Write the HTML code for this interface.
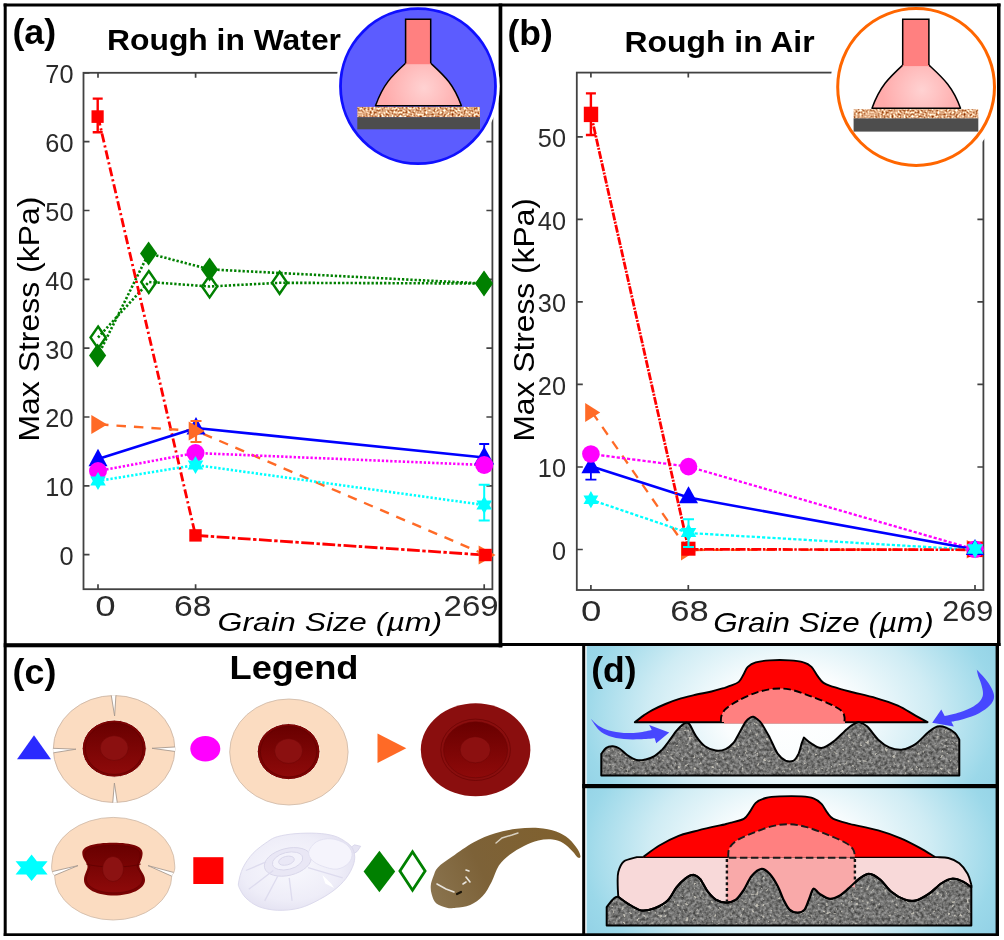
<!DOCTYPE html>
<html><head><meta charset="utf-8"><title>Figure</title>
<style>
html,body{margin:0;padding:0;background:#fff;}
body{width:1004px;height:940px;overflow:hidden;font-family:"Liberation Sans",sans-serif;}
svg{display:block}
text{font-family:"Liberation Sans",sans-serif;}
</style></head><body>
<svg width="1004" height="940" viewBox="0 0 1004 940">
<rect x="83.5" y="72.8" width="408.9" height="516.4" fill="#fff" stroke="#424242" stroke-width="1.8"/>
<path d="M83.5 72.8 h6 M492.4 72.8 h-6" stroke="#424242" stroke-width="1.7"/>
<path d="M83.5 141.6 h6 M492.4 141.6 h-6" stroke="#424242" stroke-width="1.7"/>
<path d="M83.5 210.5 h6 M492.4 210.5 h-6" stroke="#424242" stroke-width="1.7"/>
<path d="M83.5 279.3 h6 M492.4 279.3 h-6" stroke="#424242" stroke-width="1.7"/>
<path d="M83.5 348.2 h6 M492.4 348.2 h-6" stroke="#424242" stroke-width="1.7"/>
<path d="M83.5 417.0 h6 M492.4 417.0 h-6" stroke="#424242" stroke-width="1.7"/>
<path d="M83.5 485.8 h6 M492.4 485.8 h-6" stroke="#424242" stroke-width="1.7"/>
<path d="M83.5 554.7 h6 M492.4 554.7 h-6" stroke="#424242" stroke-width="1.7"/>
<path d="M98.0 589.2 v-5 M98.0 72.8 v5" stroke="#424242" stroke-width="1.7"/>
<path d="M195.6 589.2 v-5 M195.6 72.8 v5" stroke="#424242" stroke-width="1.7"/>
<path d="M484.2 589.2 v-5 M484.2 72.8 v5" stroke="#424242" stroke-width="1.7"/>
<text x="73.5" y="83.1" font-size="25.3" fill="#2a2a2a" text-anchor="end">70</text>
<text x="73.5" y="151.9" font-size="25.3" fill="#2a2a2a" text-anchor="end">60</text>
<text x="73.5" y="220.8" font-size="25.3" fill="#2a2a2a" text-anchor="end">50</text>
<text x="73.5" y="289.6" font-size="25.3" fill="#2a2a2a" text-anchor="end">40</text>
<text x="73.5" y="358.5" font-size="25.3" fill="#2a2a2a" text-anchor="end">30</text>
<text x="73.5" y="427.3" font-size="25.3" fill="#2a2a2a" text-anchor="end">20</text>
<text x="73.5" y="496.1" font-size="25.3" fill="#2a2a2a" text-anchor="end">10</text>
<text x="73.5" y="565.0" font-size="25.3" fill="#2a2a2a" text-anchor="end">0</text>
<text x="95.2" y="616.2" font-size="29.5" fill="#2a2a2a" textLength="20.4" lengthAdjust="spacingAndGlyphs">0</text>
<text x="174" y="616.2" font-size="29.5" fill="#2a2a2a" textLength="37.4" lengthAdjust="spacingAndGlyphs">68</text>
<text x="443.6" y="616.2" font-size="29.5" fill="#2a2a2a" textLength="55" lengthAdjust="spacingAndGlyphs">269</text>
<text x="217.6" y="631.3" font-size="26" font-style="italic" fill="#000" textLength="224.5" lengthAdjust="spacingAndGlyphs">Grain Size (µm)</text>
<text transform="translate(39.3 441.6) rotate(-90)" font-size="29" fill="#000" textLength="245" lengthAdjust="spacingAndGlyphs">Max Stress (kPa)</text>
<text x="12.4" y="44.4" font-size="35.8" font-weight="bold" fill="#000">(a)</text>
<text x="107" y="49.6" font-size="29.5" font-weight="bold" fill="#000" textLength="234" lengthAdjust="spacingAndGlyphs">Rough in Water</text>
<path d="M98.0 355.5 L148.6 253.4 L209.6 269.4 L484.0 283.5" fill="none" stroke="#008000" stroke-width="2.6" stroke-dasharray="2.3 1.9" stroke-linejoin="round"/>
<path d="M98.0 337.5 L148.8 282.0 L209.6 286.5 L279.6 282.8 L484.0 283.5" fill="none" stroke="#008000" stroke-width="2.6" stroke-dasharray="2.3 1.9" stroke-linejoin="round"/>
<path d="M98.0 116.5 L195.5 535.4" fill="none" stroke="#ff0000" stroke-width="2.8" stroke-dasharray="9.2 3 2.2 3" stroke-linejoin="round"/>
<path d="M195.5 535.4 L484.2 555.0" fill="none" stroke="#ff0000" stroke-width="2.8" stroke-dasharray="12.8 2.5 3.4 2.5" stroke-linejoin="round"/>
<path d="M99.0 424.4 L196.5 431.0 L486.0 555.0" fill="none" stroke="#ff6a26" stroke-width="2.4" stroke-dasharray="9.5 8" stroke-linejoin="round"/>
<path d="M98.0 459.0 L196.0 428.0 L484.2 457.5" fill="none" stroke="#0000ff" stroke-width="2.7" stroke-linejoin="round"/>
<path d="M98.0 471.0 L195.5 453.0 L484.2 465.0" fill="none" stroke="#ff00ff" stroke-width="2.6" stroke-dasharray="2.3 1.9" stroke-linejoin="round"/>
<path d="M98.0 481.0 L195.5 465.0 L484.2 505.0" fill="none" stroke="#00ffff" stroke-width="2.6" stroke-dasharray="2.3 1.9" stroke-linejoin="round"/>
<path d="M97.7 98.6 V132.3 M92.7 98.6 h10.0 M92.7 132.3 h10.0" stroke="#ff0000" stroke-width="2.4" fill="none"/>
<rect x="91.5" y="110.3" width="12.2" height="12.6" fill="#ff0000"/>
<rect x="189.3" y="529.2" width="12.4" height="12.4" fill="#ff0000"/>
<path d="M97.6 343.5 L106.2 355.5 L97.6 367.5 L89.0 355.5Z" fill="#008000"/>
<path d="M148.6 241.4 L157.2 253.4 L148.6 265.4 L140.0 253.4Z" fill="#008000"/>
<path d="M209.6 257.4 L218.2 269.4 L209.6 281.4 L201.0 269.4Z" fill="#008000"/>
<path d="M484.0 271.5 L492.6 283.5 L484.0 295.5 L475.4 283.5Z" fill="#008000"/>
<path d="M98.1 326.5 L105.7 337.5 L98.1 348.5 L90.5 337.5Z" fill="none" stroke="#008000" stroke-width="2.4"/>
<path d="M148.8 271.0 L156.4 282.0 L148.8 293.0 L141.2 282.0Z" fill="none" stroke="#008000" stroke-width="2.4"/>
<path d="M209.6 275.5 L217.2 286.5 L209.6 297.5 L202.0 286.5Z" fill="none" stroke="#008000" stroke-width="2.4"/>
<path d="M279.6 271.8 L287.2 282.8 L279.6 293.8 L272.0 282.8Z" fill="none" stroke="#008000" stroke-width="2.4"/>
<path d="M484.0 272.5 L491.6 283.5 L484.0 294.5 L476.4 283.5Z" fill="none" stroke="#008000" stroke-width="2.4"/>
<path d="M91.3 414.9 L91.3 433.9 L107.3 424.4 Z" fill="#ff6a26"/>
<path d="M88.5 466.3 L107.5 466.3 L98.0 448.8 Z" fill="#0000ff"/>
<path d="M186.5 434.6 L205.5 434.6 L196.0 417.1 Z" fill="#0000ff"/>
<path d="M196.0 421.0 V442.0 M190.5 421.0 h11.0 M190.5 442.0 h11.0" stroke="#ff6a26" stroke-width="2.2" fill="none"/>
<path d="M188.7 421.5 L188.7 440.5 L204.7 431.0 Z" fill="#ff6a26"/>
<path d="M484.2 444.0 V470.0 M479.2 444.0 h10.0 M479.2 470.0 h10.0" stroke="#0000ff" stroke-width="1.8" fill="none"/>
<path d="M474.2 464.5 L494.2 464.5 L484.2 446.5 Z" fill="#0000ff"/>
<circle cx="98" cy="471" r="9" fill="#ff00ff"/>
<circle cx="195.5" cy="453" r="9" fill="#ff00ff"/>
<circle cx="484.2" cy="465" r="9" fill="#ff00ff"/>
<path d="M98.0 472.0 L100.6 476.5 L105.8 476.5 L103.2 481.0 L105.8 485.5 L100.6 485.5 L98.0 490.0 L95.4 485.5 L90.2 485.5 L92.8 481.0 L90.2 476.5 L95.4 476.5Z" fill="#00ffff"/>
<path d="M195.5 456.0 L198.1 460.5 L203.3 460.5 L200.7 465.0 L203.3 469.5 L198.1 469.5 L195.5 474.0 L192.9 469.5 L187.7 469.5 L190.3 465.0 L187.7 460.5 L192.9 460.5Z" fill="#00ffff"/>
<path d="M484.2 484.7 V520.5 M478.7 484.7 h11.0 M478.7 520.5 h11.0" stroke="#00ffff" stroke-width="2.0" fill="none"/>
<path d="M484.2 496.0 L486.8 500.5 L492.0 500.5 L489.4 505.0 L492.0 509.5 L486.8 509.5 L484.2 514.0 L481.6 509.5 L476.4 509.5 L479.0 505.0 L476.4 500.5 L481.6 500.5Z" fill="#00ffff"/>
<path d="M478.6 545.5 L478.6 564.5 L495.6 555.0 Z" fill="#ff6a26"/>
<rect x="479.2" y="548.8" width="12.6" height="12.4" fill="#ff0000"/>
<rect x="576.8" y="72.6" width="406.6" height="517.4" fill="#fff" stroke="#424242" stroke-width="1.8"/>
<path d="M576.8 136.8 h6 M983.4 136.8 h-6" stroke="#424242" stroke-width="1.7"/>
<path d="M576.8 219.3 h6 M983.4 219.3 h-6" stroke="#424242" stroke-width="1.7"/>
<path d="M576.8 301.9 h6 M983.4 301.9 h-6" stroke="#424242" stroke-width="1.7"/>
<path d="M576.8 384.4 h6 M983.4 384.4 h-6" stroke="#424242" stroke-width="1.7"/>
<path d="M576.8 467.0 h6 M983.4 467.0 h-6" stroke="#424242" stroke-width="1.7"/>
<path d="M576.8 549.5 h6 M983.4 549.5 h-6" stroke="#424242" stroke-width="1.7"/>
<path d="M590.9 590.0 v-5 M590.9 72.6 v5" stroke="#424242" stroke-width="1.7"/>
<path d="M688.3 590.0 v-5 M688.3 72.6 v5" stroke="#424242" stroke-width="1.7"/>
<path d="M975.0 590.0 v-5 M975.0 72.6 v5" stroke="#424242" stroke-width="1.7"/>
<text x="566.0" y="147.1" font-size="25.3" fill="#2a2a2a" text-anchor="end">50</text>
<text x="566.0" y="229.6" font-size="25.3" fill="#2a2a2a" text-anchor="end">40</text>
<text x="566.0" y="312.2" font-size="25.3" fill="#2a2a2a" text-anchor="end">30</text>
<text x="566.0" y="394.7" font-size="25.3" fill="#2a2a2a" text-anchor="end">20</text>
<text x="566.0" y="477.3" font-size="25.3" fill="#2a2a2a" text-anchor="end">10</text>
<text x="566.0" y="559.8" font-size="25.3" fill="#2a2a2a" text-anchor="end">0</text>
<text x="581" y="620.8" font-size="29.5" fill="#2a2a2a" textLength="20.4" lengthAdjust="spacingAndGlyphs">0</text>
<text x="670.3" y="620.8" font-size="29.5" fill="#2a2a2a" textLength="38.4" lengthAdjust="spacingAndGlyphs">68</text>
<text x="942.2" y="620.8" font-size="29.5" fill="#2a2a2a" textLength="51" lengthAdjust="spacingAndGlyphs">269</text>
<text x="713.2" y="631.8" font-size="27.3" font-style="italic" fill="#000" textLength="220.5" lengthAdjust="spacingAndGlyphs">Grain Size (µm)</text>
<text transform="translate(534.1 441.6) rotate(-90)" font-size="29" fill="#000" textLength="243.5" lengthAdjust="spacingAndGlyphs">Max Stress (kPa)</text>
<text x="507.5" y="44.7" font-size="35.5" font-weight="bold" fill="#000">(b)</text>
<text x="624.6" y="52.4" font-size="29.5" font-weight="bold" fill="#000" textLength="190" lengthAdjust="spacingAndGlyphs">Rough in Air</text>
<path d="M592.3 412.6 L688.0 550.0 L975.0 549.5" fill="none" stroke="#ff6a26" stroke-width="2.3" stroke-dasharray="9.5 8" stroke-linejoin="round"/>
<path d="M590.9 454.0 L688.5 466.6 L975.0 549.5" fill="none" stroke="#ff00ff" stroke-width="2.3" stroke-dasharray="3.2 2" stroke-linejoin="round"/>
<path d="M590.9 466.3 L688.5 497.5 L975.0 549.5" fill="none" stroke="#0000ff" stroke-width="2.6" stroke-linejoin="round"/>
<path d="M590.9 499.7 L688.5 533.0 L975.0 549.8" fill="none" stroke="#00ffff" stroke-width="2.3" stroke-dasharray="3.2 2" stroke-linejoin="round"/>
<path d="M590.9 114.2 L688.5 548.7" fill="none" stroke="#ff0000" stroke-width="2.8" stroke-dasharray="8 1.3 2 1.3" stroke-linejoin="round"/>
<path d="M688.5 549.3 L975.0 549.8" fill="none" stroke="#ff0000" stroke-width="2.7" stroke-dasharray="10 1.6 2.5 1.6" stroke-linejoin="round"/>
<path d="M590.9 93.4 V135.0 M585.9 93.4 h10.0 M585.9 135.0 h10.0" stroke="#ff0000" stroke-width="2.4" fill="none"/>
<rect x="583.8" y="106.7" width="14.4" height="15.4" fill="#ff0000"/>
<path d="M585.2 403.1 L585.2 422.1 L600.2 412.6 Z" fill="#ff6a26"/>
<path d="M590.9 458.0 V479.6 M585.4 458.0 h11.0 M585.4 479.6 h11.0" stroke="#0000ff" stroke-width="1.8" fill="none"/>
<path d="M581.4 473.2 L600.4 473.2 L590.9 456.2 Z" fill="#0000ff"/>
<circle cx="590.9" cy="454" r="8.8" fill="#ff00ff"/>
<path d="M590.9 491.1 L593.4 495.4 L598.3 495.4 L595.9 499.7 L598.3 504.0 L593.4 504.0 L590.9 508.3 L588.4 504.0 L583.5 504.0 L585.9 499.7 L583.5 495.4 L588.4 495.4Z" fill="#00ffff"/>
<circle cx="688.5" cy="466.6" r="8.8" fill="#ff00ff"/>
<path d="M679.0 503.2 L698.0 503.2 L688.5 486.2 Z" fill="#0000ff"/>
<path d="M681.0 541.5 L681.0 560.5 L696.0 551.0 Z" fill="#ff6a26"/>
<rect x="681.5" y="541.7" width="14" height="14" fill="#ff0000"/>
<path d="M688.5 519.3 V547.0 M683.0 519.3 h11.0 M683.0 547.0 h11.0" stroke="#00ffff" stroke-width="2.0" fill="none"/>
<path d="M688.5 523.4 L691.1 527.9 L696.3 527.9 L693.7 532.4 L696.3 536.9 L691.1 536.9 L688.5 541.4 L685.9 536.9 L680.7 536.9 L683.3 532.4 L680.7 527.9 L685.9 527.9Z" fill="#00ffff"/>
<path d="M966.7 540.0 L966.7 558.5 L983.7 549.3 Z" fill="#ff6a26"/>
<rect x="967.3" y="541.5" width="15.6" height="15.6" fill="#ff0000"/>
<circle cx="975" cy="549.3" r="8.8" fill="#ff00ff"/>
<path d="M965.8 554.9 L984.2 554.9 L975.0 538.9 Z" fill="#0000ff"/>
<path d="M975.1 539.4 L977.8 544.2 L983.2 544.2 L980.5 549.0 L983.2 553.8 L977.8 553.8 L975.1 558.6 L972.4 553.8 L967.0 553.8 L969.7 549.0 L967.0 544.2 L972.4 544.2Z" fill="#00ffff"/>
<defs>
<clipPath id="haloclip"><rect x="0" y="6.6" width="1004" height="700"/></clipPath>
<radialGradient id="bellg1" gradientUnits="userSpaceOnUse" cx="424" cy="88" r="40"><stop offset="0" stop-color="#ffd2d2"/><stop offset="1" stop-color="#ffabab"/></radialGradient>
<radialGradient id="bellg2" gradientUnits="userSpaceOnUse" cx="922" cy="90" r="40"><stop offset="0" stop-color="#ffd2d2"/><stop offset="1" stop-color="#ffabab"/></radialGradient>
<filter id="sandf" color-interpolation-filters="sRGB" x="0" y="0" width="1" height="1"><feTurbulence type="fractalNoise" baseFrequency="0.5" numOctaves="2" seed="3" result="n"/><feColorMatrix in="n" type="matrix" values="1.0 0 0 0 0.38  1.5 0 0 0 -0.08  1.7 0 0 0 -0.34  0 0 0 0 1" result="sp"/><feComposite in="sp" in2="SourceGraphic" operator="in"/></filter>
</defs>
<circle cx="916.1" cy="87.0" r="85.9" fill="#fff" clip-path="url(#haloclip)"/>
<circle cx="916.1" cy="87.0" r="78.4" fill="#ffffff" stroke="#ff6600" stroke-width="3.0"/>
<path d="M902.7 65.1 C888.7 78.1 880.0 86.2 872.0 108.2 L960.5 108.2 C952.5 86.2 942.9 78.1 928.9 65.1Z" fill="url(#bellg2)" stroke="#000" stroke-width="1.5" stroke-linejoin="round"/>
<rect x="902.7" y="19.2" width="26.2" height="46.9" fill="#ff8080"/>
<path d="M902.7 65.1 V19.2 H928.9 V65.1" fill="none" stroke="#000" stroke-width="1.5"/>
<rect x="853.6" y="109.2" width="124.7" height="9.4" fill="#e2a884" filter="url(#sandf)"/>
<rect x="853.6" y="118.4" width="124.7" height="13.2" fill="#4d4d4d"/>
<text x="12.6" y="684.2" font-size="35.8" font-weight="bold" fill="#000">(c)</text>
<text x="229.5" y="679.3" font-size="33.5" font-weight="bold" fill="#000" textLength="129" lengthAdjust="spacingAndGlyphs">Legend</text>
<defs>
<radialGradient id="cupg" cx="0.5" cy="0.3" r="0.75"><stop offset="0" stop-color="#6d0000"/><stop offset="0.55" stop-color="#7a0202"/><stop offset="1" stop-color="#8c0808"/></radialGradient>
<linearGradient id="cupl" x1="0" y1="0" x2="0" y2="1"><stop offset="0" stop-color="#690000"/><stop offset="1" stop-color="#8e0a0a"/></linearGradient>
</defs>
<ellipse cx="114.1" cy="749" rx="60.8" ry="53.5" fill="#fbdcc1" stroke="#cdb7a6" stroke-width="0.9"/>
<defs><clipPath id="cd1"><ellipse cx="114.1" cy="749" rx="61" ry="53.7"/></clipPath><clipPath id="cd4"><path d="M51.7 865 A61.5 47.6 0 0 1 174.7 865 C175.2 869 174.5 872.5 171.8 875.5 A58.6 44.5 0 0 1 113.2 920 A58.6 44.5 0 0 1 54.6 875.5 C52 872.5 51.3 869 51.7 865Z"/></clipPath></defs>
<path d="M110.9 693.1 L114.6 716.0 L116.1 692.9Z" fill="#fff" stroke="#a89a8e" stroke-width="0.9" clip-path="url(#cd1)"/>
<path d="M117.7 805.4 L114.4 783.0 L112.5 805.6Z" fill="#fff" stroke="#a89a8e" stroke-width="0.9" clip-path="url(#cd1)"/>
<path d="M51.0 753.2 L76.0 749.2 L50.7 748.2Z" fill="#fff" stroke="#a89a8e" stroke-width="0.9" clip-path="url(#cd1)"/>
<path d="M177.6 746.8 L152.0 748.3 L177.4 751.8Z" fill="#fff" stroke="#a89a8e" stroke-width="0.9" clip-path="url(#cd1)"/>
<ellipse cx="114.2" cy="748.6" rx="32.1" ry="28.6" fill="#7c0404" stroke="#fdecd6" stroke-width="1"/>
<ellipse cx="114.2" cy="748.6" rx="28.9" ry="25.8" fill="url(#cupl)" stroke="#5c0000" stroke-width="0.6"/>
<ellipse cx="114.2" cy="748.1" rx="14" ry="12.4" fill="#8b1010" stroke="#700606" stroke-width="0.6"/>
<ellipse cx="288.9" cy="752" rx="59.2" ry="53" fill="#fbdcc1" stroke="#cdb7a6" stroke-width="0.8"/>
<ellipse cx="288.6" cy="751.6" rx="31.4" ry="28.1" fill="#7c0404" stroke="#fdecd6" stroke-width="1"/>
<ellipse cx="288.6" cy="751.6" rx="28.2" ry="25.3" fill="url(#cupl)" stroke="#5c0000" stroke-width="0.6"/>
<ellipse cx="288.6" cy="751.1" rx="14" ry="12.4" fill="#8b1010" stroke="#700606" stroke-width="0.6"/>
<ellipse cx="475.6" cy="749.8" rx="54.8" ry="46.5" fill="#8a0e0e"/>
<ellipse cx="475.6" cy="749.8" rx="34.8" ry="30.7" fill="#8a0e0e" stroke="#690303" stroke-width="0.7"/>
<ellipse cx="475.6" cy="749.8" rx="32" ry="28" fill="url(#cupl)" stroke="#690303" stroke-width="0.6"/>
<ellipse cx="475.3" cy="749.8" rx="15.2" ry="13.1" fill="#8c1010" stroke="#6a0505" stroke-width="0.5"/>
<path d="M51.7 865 A61.5 47.6 0 0 1 174.7 865 C175.2 869 174.5 872.5 171.8 875.5 A58.6 44.5 0 0 1 113.2 920 A58.6 44.5 0 0 1 54.6 875.5 C52 872.5 51.3 869 51.7 865Z" fill="#fbdcc1" stroke="#cdb7a6" stroke-width="0.8"/>
<path d="M52.6 876.2 L78.0 865.6 L51.2 871.8Z" fill="#fff" stroke="#a89a8e" stroke-width="0.9" clip-path="url(#cd4)"/>
<path d="M176.1 873.1 L148.0 865.6 L174.5 877.4Z" fill="#fff" stroke="#a89a8e" stroke-width="0.9" clip-path="url(#cd4)"/>
<path d="M82.3 853 C82.3 846 94 842.7 113 842.7 C132 842.7 142.6 846 142.6 853 C142.6 859 139.5 862 139.3 866 C139.3 870 145 874 145 880 C145 889 131 895.5 114 895.5 C97 895.5 84 889 84 880 C84 874 88 870 87.5 866 C87 862 82.3 859 82.3 853Z" fill="#7a0303"/>
<path d="M82.3 853 C82.3 846 94 842.7 113 842.7 C132 842.7 142.6 846 142.6 853 C142.6 859 139.5 862 139.3 866 C139.3 870 145 874 145 880 C145 889 131 895.5 114 895.5 C97 895.5 84 889 84 880 C84 874 88 870 87.5 866 C87 862 82.3 859 82.3 853Z" fill="url(#cupl)" stroke="#5c0000" stroke-width="0.6" transform="translate(113.5 869) scale(0.92 0.9) translate(-113.5 -869)"/>
<path d="M86 864 C100 868 128 868 141 864" fill="none" stroke="#5c0000" stroke-width="0.7"/>
<ellipse cx="113" cy="869" rx="10.5" ry="12.5" fill="#8c1212" stroke="#6a0505" stroke-width="0.5"/>
<path d="M17 759.2 L51 759.2 L34 735.2Z" fill="#2a2aff"/>
<ellipse cx="205.3" cy="748.7" rx="15" ry="12.8" fill="#ff00ff"/>
<path d="M377.5 733.4 L377.5 763 L406.3 748.2Z" fill="#ff6a26"/>
<path d="M31.6 854.6 L36.9 861.2 L47.6 861.2 L42.3 867.8 L47.6 874.4 L36.9 874.4 L31.6 881.0 L26.3 874.4 L15.6 874.4 L20.9 867.8 L15.6 861.2 L26.3 861.2Z" fill="#00ffff"/>
<rect x="193.3" y="857.2" width="30.1" height="26.8" fill="#ff0000"/>
<path d="M379.4 850.8 L395.2 871.5 L379.4 892.2 L363.6 871.5Z" fill="#008000"/>
<path d="M412.5 851.7 L425.1 871.0 L412.5 890.3 L399.9 871.0Z" fill="none" stroke="#008000" stroke-width="2.8"/>
<defs><radialGradient id="ccg" cx="0.45" cy="0.45" r="0.6"><stop offset="0" stop-color="#f8f8fd"/><stop offset="0.7" stop-color="#eeedf8"/><stop offset="1" stop-color="#e3e1f1"/></radialGradient></defs>
<path d="M351.0 847.4 L354.5 844.8 L360.7 846.3 L357.1 851.5 L353.9 853.5Z" fill="#e6e4f3" stroke="#d4d2e8" stroke-width="0.8"/>
<path d="M238.7 882.1 C239.3 878.7 240.6 872.5 243.0 867.7 C245.4 862.8 249.0 857.6 253.1 853.2 C257.2 848.9 263.5 844.4 267.6 841.7 C271.6 838.9 273.1 837.9 277.7 836.6 C282.2 835.3 288.5 834.3 295.0 833.7 C301.5 833.2 310.2 832.9 316.7 833.3 C323.2 833.6 329.2 834.5 334.0 835.9 C338.8 837.3 342.4 839.5 345.5 841.7 C348.7 843.8 351.3 845.8 352.8 848.9 C354.3 852.0 355.2 856.1 354.5 860.4 C353.8 864.8 351.4 870.3 348.4 874.9 C345.5 879.5 341.7 883.8 336.9 887.9 C332.1 892.0 325.8 896.1 319.5 899.4 C313.3 902.8 306.3 906.3 299.3 908.1 C292.3 909.9 284.4 910.5 277.7 910.3 C270.9 910.0 264.2 908.7 258.9 906.7 C253.6 904.6 249.1 901.1 245.9 898.0 C242.6 894.9 240.6 890.5 239.4 887.9 C238.2 885.2 238.1 885.5 238.7 882.1Z" fill="url(#ccg)" stroke="#dcdaed" stroke-width="1"/>
<g transform="translate(287.8 861.9) rotate(-14)" fill="none" stroke="#d8d6ea" stroke-width="0.9">
<ellipse cx="0" cy="0" rx="24" ry="13.5" fill="#e9e7f5"/><ellipse cx="0" cy="-1" rx="15.5" ry="8.5" fill="#f3f2fb"/><ellipse cx="-1" cy="-1.5" rx="8" ry="4.3" fill="#eae8f6"/>
</g>
<path d="M308.7 851.8 C309.4 848.6 312.9 843.8 316.7 841.7 C320.4 839.5 326.3 838.4 331.1 838.8 C335.9 839.1 342.0 841.4 345.5 843.8 C349.0 846.2 351.6 850.0 352.0 853.2 C352.5 856.5 351.0 860.7 348.4 863.3 C345.9 866.0 341.2 868.6 336.9 869.1 C332.5 869.6 326.5 867.7 322.4 866.2 C318.3 864.8 314.6 862.8 312.3 860.4 C310.0 858.0 308.0 854.9 308.7 851.8Z" fill="#f5f4fc" stroke="#e0def0" stroke-width="0.8"/>
<path d="M273.3 870.5 L248.8 889.3" stroke="#dddbee" stroke-width="1.3"/>
<path d="M289.2 877.8 L292.1 900.9" stroke="#dddbee" stroke-width="1.3"/>
<path d="M277.7 876.3 L264.7 900.9" stroke="#dddbee" stroke-width="1.3"/>
<path d="M266.1 861.9 L245.9 870.5" stroke="#dddbee" stroke-width="1.3"/>
<path d="M308.0 867.7 L342.7 877.8" stroke="#dddbee" stroke-width="1.3"/>
<path d="M322.4 874.9 L331.1 883.5 L334.0 887.9 L325.3 883.5Z" fill="#ffffff"/>
<defs><linearGradient id="fishg" gradientUnits="userSpaceOnUse" x1="432" y1="900" x2="580" y2="830"><stop offset="0" stop-color="#8a744f"/><stop offset="0.35" stop-color="#7d6238"/><stop offset="1" stop-color="#80602c"/></linearGradient></defs>
<path d="M430.8 885.3 C431.1 882.3 432.3 879.3 433.4 876.3 C434.6 873.3 434.8 870.7 437.9 867.4 C441.1 864.1 446.3 860.8 452.3 856.6 C458.2 852.4 466.6 846.2 473.8 842.3 C481.0 838.4 488.1 835.5 495.3 833.3 C502.5 831.1 509.6 829.7 516.8 828.8 C524.0 827.9 531.7 827.5 538.3 827.9 C544.9 828.4 551.2 829.7 556.2 831.5 C561.3 833.3 565.2 835.7 568.8 838.7 C572.4 841.7 575.8 846.5 577.8 849.4 C579.7 852.4 580.5 855.3 580.5 856.6 C580.5 858.0 579.1 858.4 577.8 857.5 C576.4 856.6 574.8 853.6 572.4 851.2 C570.0 848.8 566.7 845.1 563.4 843.2 C560.1 841.2 556.8 840.0 552.7 839.6 C548.5 839.1 543.1 839.4 538.3 840.5 C533.5 841.5 528.8 843.5 524.0 845.9 C519.2 848.2 513.8 851.5 509.6 854.8 C505.5 858.1 501.9 861.1 498.9 865.6 C495.9 870.1 494.4 876.6 491.7 881.7 C489.0 886.8 486.3 892.2 482.7 896.1 C479.2 899.9 474.7 903.1 470.2 905.0 C465.7 907.0 459.7 907.3 455.9 907.7 C452.0 908.2 450.2 908.5 446.9 907.7 C443.6 907.0 438.7 905.5 436.1 903.2 C433.6 901.0 432.5 897.2 431.7 894.3 C430.8 891.3 430.5 888.3 430.8 885.3Z" fill="url(#fishg)"/>
<path d="M437 884 l9 5 l8 3" stroke="#e8e4dc" stroke-width="1.6" fill="none" stroke-linecap="round"/>
<path d="M496 843 l6 -5 l10 -3 l6 -2" stroke="#d8d0c0" stroke-width="1.4" fill="none" stroke-linecap="round"/>
<path d="M466 870 l3 1 M466 877 l4 5 M463 884 l3 -2" stroke="#e8e4dc" stroke-width="1.6" fill="none" stroke-linecap="round"/>
<path d="M457 894 l4 -2" stroke="#1a1408" stroke-width="2.2" fill="none" stroke-linecap="round"/>
<defs>
<radialGradient id="bg1" gradientUnits="userSpaceOnUse" cx="790" cy="715" r="235" gradientTransform="translate(790 715) scale(1 0.68) translate(-790 -715)"><stop offset="0" stop-color="#ffffff"/><stop offset="0.28" stop-color="#fafdfe"/><stop offset="0.6" stop-color="#cfecf4"/><stop offset="0.88" stop-color="#9bd8e9"/><stop offset="1" stop-color="#93d2e6"/></radialGradient>
<radialGradient id="bg2" gradientUnits="userSpaceOnUse" cx="790" cy="852" r="235" gradientTransform="translate(790 852) scale(1 0.68) translate(-790 -852)"><stop offset="0" stop-color="#ffffff"/><stop offset="0.28" stop-color="#fafdfe"/><stop offset="0.6" stop-color="#cfecf4"/><stop offset="0.88" stop-color="#9bd8e9"/><stop offset="1" stop-color="#93d2e6"/></radialGradient>
<filter id="rockf" color-interpolation-filters="sRGB" x="-0.02" y="-0.05" width="1.04" height="1.1"><feTurbulence type="fractalNoise" baseFrequency="0.33" numOctaves="2" seed="7" result="n"/><feColorMatrix in="n" type="matrix" values="0.6 0 0 0 0.15  0.6 0 0 0 0.15  0.6 0 0 0 0.145  0 0 0 0 1" result="g"/><feTurbulence type="fractalNoise" baseFrequency="0.27" numOctaves="2" seed="21" result="n2"/><feColorMatrix in="n2" type="matrix" values="0 0 0 0 0.76  0 0 0 0 0.75  0 0 0 0 0.71  8 0 0 0 -5.2" result="sp"/><feComposite in="sp" in2="g" operator="over" result="c"/><feGaussianBlur in="c" stdDeviation="0.6" result="cb"/><feComposite in="cb" in2="SourceGraphic" operator="in"/></filter>
</defs>
<rect x="586.6" y="646" width="410" height="139" fill="url(#bg1)"/>
<rect x="586.6" y="788" width="410" height="146" fill="url(#bg2)"/>
<text x="591.2" y="681.8" font-size="35.5" font-weight="bold" fill="#000">(d)</text>
<path d="M634.8 722.2 C636.2 721.1 640.6 717.6 643.5 715.6 C646.5 713.6 648.7 712.0 652.3 710.1 C656.0 708.2 661.1 705.8 665.5 704.0 C669.8 702.2 673.9 700.6 678.6 699.2 C683.3 697.7 688.5 696.5 693.9 695.2 C699.4 693.9 706.4 692.7 711.5 691.5 C716.6 690.2 721.5 688.7 724.6 687.8 C727.7 686.8 727.5 686.8 729.8 685.9 C732.2 684.9 736.5 683.9 738.8 681.9 C741.1 679.9 742.3 676.4 743.8 673.9 C745.3 671.4 745.8 668.9 747.8 666.9 C749.8 665.0 752.1 663.4 755.7 662.4 C759.4 661.3 764.0 660.7 769.7 660.4 C775.3 660.0 784.0 660.0 789.6 660.4 C795.2 660.7 799.9 661.3 803.5 662.4 C807.2 663.4 809.2 664.7 811.5 666.9 C813.8 669.2 815.5 673.2 817.5 675.9 C819.5 678.6 820.8 681.0 823.5 682.9 C826.1 684.7 829.0 685.4 833.4 686.9 C837.8 688.3 842.6 689.6 849.7 691.5 C856.8 693.4 868.0 695.7 876.0 698.1 C884.1 700.4 891.4 702.8 897.9 705.7 C904.5 708.7 910.5 712.9 915.5 715.6 C920.4 718.3 925.5 721.1 927.5 722.2 Z" fill="#ff0000" stroke="#000" stroke-width="1.9" stroke-linejoin="round"/>
<path d="M724 722.3 H845" stroke="#ff8080" stroke-width="2.2"/>
<path d="M720.9 722.1 C721.0 721.0 720.6 718.0 721.5 715.7 C722.3 713.5 723.1 711.3 725.9 708.8 C728.6 706.3 732.8 703.5 737.8 700.8 C742.8 698.1 749.8 694.8 755.7 692.8 C761.7 690.8 768.0 689.4 773.7 688.8 C779.3 688.3 783.6 688.3 789.6 689.4 C795.6 690.6 802.9 693.4 809.5 695.8 C816.2 698.2 824.1 701.3 829.4 703.8 C834.8 706.3 838.9 708.6 841.4 710.8 C843.9 712.9 843.9 714.8 844.4 716.7 C844.9 718.6 844.4 721.2 844.4 722.1 Z" fill="#ff8080"/>
<path d="M720.9 722.1 C721.0 721.0 720.6 718.0 721.5 715.7 C722.3 713.5 723.1 711.3 725.9 708.8 C728.6 706.3 732.8 703.5 737.8 700.8 C742.8 698.1 749.8 694.8 755.7 692.8 C761.7 690.8 768.0 689.4 773.7 688.8 C779.3 688.3 783.6 688.3 789.6 689.4 C795.6 690.6 802.9 693.4 809.5 695.8 C816.2 698.2 824.1 701.3 829.4 703.8 C834.8 706.3 838.9 708.6 841.4 710.8 C843.9 712.9 843.9 714.8 844.4 716.7 C844.9 718.6 844.4 721.2 844.4 722.1" fill="none" stroke="#000" stroke-width="1.9" stroke-dasharray="7.5 3.5"/>
<path d="M601.3 775.6 L601.3 753.9 C602.1 752.9 604.4 749.1 606.3 747.8 C608.2 746.5 610.7 746.2 612.9 746.3 C615.1 746.4 617.1 747.0 619.4 748.5 C621.8 749.9 624.2 753.1 627.1 755.0 C630.0 757.0 633.9 759.3 637.0 760.1 C640.1 760.8 642.8 760.1 645.7 759.4 C648.7 758.8 651.8 757.8 654.5 756.1 C657.2 754.5 660.0 751.7 662.2 749.6 C664.4 747.4 665.3 746.1 667.6 743.0 C670.0 739.9 673.9 734.0 676.4 730.9 C679.0 727.8 681.3 725.7 683.0 724.4 C684.6 723.0 685.2 722.8 686.3 722.8 C687.4 722.8 687.9 722.1 689.6 724.4 C691.2 726.6 693.6 732.8 696.1 736.4 C698.7 740.1 701.6 743.9 704.9 746.3 C708.2 748.6 712.4 750.2 715.8 750.6 C719.3 751.1 722.8 750.4 725.7 749.1 C728.6 747.8 731.4 745.2 733.4 743.0 C735.4 740.7 735.7 739.2 737.8 735.7 C739.9 732.1 743.6 724.8 745.8 721.7 C747.9 718.7 749.5 718.2 750.8 717.3 C752.0 716.5 752.4 716.5 753.3 716.7 C754.3 717.0 755.3 717.6 756.7 718.7 C758.1 719.9 759.6 720.6 761.7 723.7 C763.9 726.9 767.0 732.7 769.7 737.6 C772.3 742.6 775.0 749.8 777.6 753.6 C780.3 757.4 783.0 759.4 785.6 760.6 C788.3 761.7 791.4 761.7 793.6 760.6 C795.7 759.4 797.2 756.4 798.6 753.6 C799.9 750.8 801.1 745.3 801.6 743.6 L803.9 737.6 C805.2 738.6 808.6 741.9 811.5 743.6 C814.4 745.4 817.8 748.3 821.5 748.0 C825.1 747.7 829.1 744.9 833.4 741.6 C837.7 738.4 843.7 731.7 847.4 728.7 C851.0 725.6 853.3 724.4 855.3 723.3 C857.3 722.2 857.3 721.6 859.3 722.1 C861.3 722.7 864.1 723.6 867.3 726.5 C870.4 729.5 874.6 736.2 878.2 739.7 C881.9 743.2 885.2 745.7 889.2 747.4 C893.2 749.0 897.9 750.1 902.3 749.6 C906.7 749.0 911.1 747.0 915.5 744.1 C919.8 741.2 925.0 734.9 928.6 732.0 C932.3 729.1 934.5 727.3 937.4 726.5 C940.3 725.8 943.2 726.5 946.1 727.6 C949.1 728.7 952.7 731.1 954.9 733.1 C957.1 735.1 958.6 738.6 959.3 739.7 L959.3 775.6 Z" fill="#777" filter="url(#rockf)"/>
<path d="M601.3 775.6 L601.3 753.9 C602.1 752.9 604.4 749.1 606.3 747.8 C608.2 746.5 610.7 746.2 612.9 746.3 C615.1 746.4 617.1 747.0 619.4 748.5 C621.8 749.9 624.2 753.1 627.1 755.0 C630.0 757.0 633.9 759.3 637.0 760.1 C640.1 760.8 642.8 760.1 645.7 759.4 C648.7 758.8 651.8 757.8 654.5 756.1 C657.2 754.5 660.0 751.7 662.2 749.6 C664.4 747.4 665.3 746.1 667.6 743.0 C670.0 739.9 673.9 734.0 676.4 730.9 C679.0 727.8 681.3 725.7 683.0 724.4 C684.6 723.0 685.2 722.8 686.3 722.8 C687.4 722.8 687.9 722.1 689.6 724.4 C691.2 726.6 693.6 732.8 696.1 736.4 C698.7 740.1 701.6 743.9 704.9 746.3 C708.2 748.6 712.4 750.2 715.8 750.6 C719.3 751.1 722.8 750.4 725.7 749.1 C728.6 747.8 731.4 745.2 733.4 743.0 C735.4 740.7 735.7 739.2 737.8 735.7 C739.9 732.1 743.6 724.8 745.8 721.7 C747.9 718.7 749.5 718.2 750.8 717.3 C752.0 716.5 752.4 716.5 753.3 716.7 C754.3 717.0 755.3 717.6 756.7 718.7 C758.1 719.9 759.6 720.6 761.7 723.7 C763.9 726.9 767.0 732.7 769.7 737.6 C772.3 742.6 775.0 749.8 777.6 753.6 C780.3 757.4 783.0 759.4 785.6 760.6 C788.3 761.7 791.4 761.7 793.6 760.6 C795.7 759.4 797.2 756.4 798.6 753.6 C799.9 750.8 801.1 745.3 801.6 743.6 L803.9 737.6 C805.2 738.6 808.6 741.9 811.5 743.6 C814.4 745.4 817.8 748.3 821.5 748.0 C825.1 747.7 829.1 744.9 833.4 741.6 C837.7 738.4 843.7 731.7 847.4 728.7 C851.0 725.6 853.3 724.4 855.3 723.3 C857.3 722.2 857.3 721.6 859.3 722.1 C861.3 722.7 864.1 723.6 867.3 726.5 C870.4 729.5 874.6 736.2 878.2 739.7 C881.9 743.2 885.2 745.7 889.2 747.4 C893.2 749.0 897.9 750.1 902.3 749.6 C906.7 749.0 911.1 747.0 915.5 744.1 C919.8 741.2 925.0 734.9 928.6 732.0 C932.3 729.1 934.5 727.3 937.4 726.5 C940.3 725.8 943.2 726.5 946.1 727.6 C949.1 728.7 952.7 731.1 954.9 733.1 C957.1 735.1 958.6 738.6 959.3 739.7 L959.3 775.6 Z" fill="none" stroke="#000" stroke-width="2" stroke-linejoin="round"/>
<path d="M591.0 718.9 C592.3 720.1 596.0 724.0 598.9 725.9 C601.9 727.8 604.8 729.2 608.9 730.4 C613.1 731.5 618.9 732.5 623.8 732.9 C628.8 733.2 634.1 732.9 638.8 732.4 C643.4 731.9 649.6 730.3 651.7 729.9 L649.2 724.9 L669.2 732.4 L656.2 743.3 L654.7 738.3 C652.2 738.5 644.9 739.2 639.8 739.3 C634.6 739.5 629.0 739.6 623.8 739.0 C618.7 738.5 613.1 737.4 608.9 735.9 C604.8 734.3 601.9 732.7 598.9 729.9 C596.0 727.1 592.3 720.8 591.0 718.9Z" fill="#4747ff"/>
<path d="M976.7 669.6 C978.4 671.5 984.2 677.2 986.8 680.7 C989.4 684.1 991.3 687.4 992.5 690.2 C993.7 693.1 994.5 695.3 994.0 697.9 C993.5 700.4 992.1 703.0 989.7 705.6 C987.2 708.1 983.4 711.0 979.1 713.2 C974.8 715.5 968.4 717.5 963.8 719.0 C959.2 720.4 953.4 721.4 951.4 721.8 L953.8 726.6 L932.2 722.8 L941.3 709.4 L944.7 716.1 C947.2 715.5 955.2 713.9 960.0 712.3 C964.8 710.7 969.9 708.6 973.4 706.5 C976.9 704.4 979.5 702.0 981.0 699.8 C982.6 697.6 983.0 695.8 983.0 693.1 C983.0 690.4 981.8 686.4 981.0 683.5 C980.3 680.7 978.9 678.2 978.2 675.9 C977.5 673.5 977.0 670.7 976.7 669.6Z" fill="#4747ff"/>
<path d="M606.7 925.6 L606.7 907.1 C607.8 905.8 610.9 901.1 612.9 899.4 C614.8 897.7 615.8 896.1 618.3 896.8 C620.9 897.5 624.4 901.5 628.2 903.8 C632.0 906.1 637.0 909.6 641.3 910.4 C645.7 911.1 650.1 909.8 654.5 908.2 C658.9 906.5 664.0 904.0 667.6 900.5 C671.3 897.0 673.5 891.0 676.4 887.4 C679.3 883.7 682.4 880.7 685.2 878.6 C687.9 876.5 690.5 874.7 692.8 874.7 C695.2 874.6 697.8 876.8 699.4 878.2 C701.1 879.5 701.3 880.7 702.7 883.0 C704.1 885.2 705.7 888.8 707.9 891.6 C710.1 894.4 712.9 897.7 715.9 899.6 C718.9 901.4 722.5 902.5 725.9 902.5 C729.2 902.5 732.8 901.7 735.8 899.6 C738.8 897.4 741.1 893.6 743.8 889.6 C746.4 885.6 748.8 879.1 751.8 875.7 C754.7 872.2 758.7 869.0 761.7 868.7 C764.7 868.4 767.0 870.8 769.7 873.7 C772.3 876.5 775.3 881.3 777.6 885.6 C780.0 889.9 781.6 895.6 783.6 899.6 C785.6 903.5 787.3 907.4 789.6 909.5 C791.9 911.7 795.1 912.5 797.6 912.5 C800.1 912.5 802.5 912.0 804.5 909.5 C806.5 907.0 808.0 901.1 809.5 897.6 C811.0 894.1 811.8 889.3 813.5 888.6 C815.2 887.9 816.8 891.9 819.5 893.6 C822.1 895.2 826.1 898.2 829.4 898.6 C832.8 898.9 836.1 897.4 839.4 895.6 C842.7 893.8 846.0 890.4 849.4 887.6 C852.7 884.8 856.0 881.0 859.3 878.6 C862.6 876.3 865.8 873.5 869.3 873.7 C872.8 873.8 876.7 876.7 880.4 879.7 C884.1 882.7 887.3 888.5 891.4 891.7 C895.4 895.0 900.5 898.0 904.5 899.4 C908.5 900.9 911.4 901.4 915.5 900.5 C919.5 899.6 924.2 896.9 928.6 893.9 C933.0 891.0 937.7 885.5 941.8 883.0 C945.8 880.4 949.1 878.8 952.7 878.6 C956.4 878.4 960.6 880.4 963.7 881.9 C966.8 883.3 970.1 886.4 971.3 887.4 L971.3 925.6 Z" fill="#777" filter="url(#rockf)"/>
<path d="M606.7 925.6 L606.7 907.1 C607.8 905.8 610.9 901.1 612.9 899.4 C614.8 897.7 615.8 896.1 618.3 896.8 C620.9 897.5 624.4 901.5 628.2 903.8 C632.0 906.1 637.0 909.6 641.3 910.4 C645.7 911.1 650.1 909.8 654.5 908.2 C658.9 906.5 664.0 904.0 667.6 900.5 C671.3 897.0 673.5 891.0 676.4 887.4 C679.3 883.7 682.4 880.7 685.2 878.6 C687.9 876.5 690.5 874.7 692.8 874.7 C695.2 874.6 697.8 876.8 699.4 878.2 C701.1 879.5 701.3 880.7 702.7 883.0 C704.1 885.2 705.7 888.8 707.9 891.6 C710.1 894.4 712.9 897.7 715.9 899.6 C718.9 901.4 722.5 902.5 725.9 902.5 C729.2 902.5 732.8 901.7 735.8 899.6 C738.8 897.4 741.1 893.6 743.8 889.6 C746.4 885.6 748.8 879.1 751.8 875.7 C754.7 872.2 758.7 869.0 761.7 868.7 C764.7 868.4 767.0 870.8 769.7 873.7 C772.3 876.5 775.3 881.3 777.6 885.6 C780.0 889.9 781.6 895.6 783.6 899.6 C785.6 903.5 787.3 907.4 789.6 909.5 C791.9 911.7 795.1 912.5 797.6 912.5 C800.1 912.5 802.5 912.0 804.5 909.5 C806.5 907.0 808.0 901.1 809.5 897.6 C811.0 894.1 811.8 889.3 813.5 888.6 C815.2 887.9 816.8 891.9 819.5 893.6 C822.1 895.2 826.1 898.2 829.4 898.6 C832.8 898.9 836.1 897.4 839.4 895.6 C842.7 893.8 846.0 890.4 849.4 887.6 C852.7 884.8 856.0 881.0 859.3 878.6 C862.6 876.3 865.8 873.5 869.3 873.7 C872.8 873.8 876.7 876.7 880.4 879.7 C884.1 882.7 887.3 888.5 891.4 891.7 C895.4 895.0 900.5 898.0 904.5 899.4 C908.5 900.9 911.4 901.4 915.5 900.5 C919.5 899.6 924.2 896.9 928.6 893.9 C933.0 891.0 937.7 885.5 941.8 883.0 C945.8 880.4 949.1 878.8 952.7 878.6 C956.4 878.4 960.6 880.4 963.7 881.9 C966.8 883.3 970.1 886.4 971.3 887.4 L971.3 925.6 Z" fill="none" stroke="#000" stroke-width="2" stroke-linejoin="round"/>
<path d="M618.3 896.8 C618.2 894.8 617.7 889.3 617.7 885.2 C617.7 881.0 617.3 876.0 618.3 872.0 C619.4 868.1 620.7 864.0 623.8 861.5 C626.9 859.0 634.8 857.9 637.0 857.1 L937.4 857.1 C939.2 857.3 944.7 857.0 948.3 858.0 C952.0 859.0 956.1 860.6 959.3 863.3 C962.5 865.9 965.6 870.2 967.6 873.8 C969.6 877.4 970.7 882.5 971.3 884.7 C972.0 887.0 971.3 886.9 971.3 887.4 C970.1 886.4 966.8 883.3 963.7 881.9 C960.6 880.4 956.4 878.4 952.7 878.6 C949.1 878.8 945.8 880.4 941.8 883.0 C937.7 885.5 933.0 891.0 928.6 893.9 C924.2 896.9 919.5 899.6 915.5 900.5 C911.4 901.4 908.5 900.9 904.5 899.4 C900.5 898.0 895.4 895.0 891.4 891.7 C887.3 888.5 884.1 882.7 880.4 879.7 C876.7 876.7 872.8 873.8 869.3 873.7 C865.8 873.5 862.6 876.3 859.3 878.6 C856.0 881.0 852.7 884.8 849.4 887.6 C846.0 890.4 842.7 893.8 839.4 895.6 C836.1 897.4 832.8 898.9 829.4 898.6 C826.1 898.2 822.1 895.2 819.5 893.6 C816.8 891.9 815.2 887.9 813.5 888.6 C811.8 889.3 811.0 894.1 809.5 897.6 C808.0 901.1 806.5 907.0 804.5 909.5 C802.5 912.0 800.1 912.5 797.6 912.5 C795.1 912.5 791.9 911.7 789.6 909.5 C787.3 907.4 785.6 903.5 783.6 899.6 C781.6 895.6 780.0 889.9 777.6 885.6 C775.3 881.3 772.3 876.5 769.7 873.7 C767.0 870.8 764.7 868.4 761.7 868.7 C758.7 869.0 754.7 872.2 751.8 875.7 C748.8 879.1 746.4 885.6 743.8 889.6 C741.1 893.6 738.8 897.4 735.8 899.6 C732.8 901.7 729.2 902.5 725.9 902.5 C722.5 902.5 718.9 901.4 715.9 899.6 C712.9 897.7 710.1 894.4 707.9 891.6 C705.7 888.8 704.1 885.2 702.7 883.0 C701.3 880.7 701.1 879.5 699.4 878.2 C697.8 876.8 695.2 874.6 692.8 874.7 C690.5 874.7 687.9 876.5 685.2 878.6 C682.4 880.7 679.3 883.7 676.4 887.4 C673.5 891.0 671.3 897.0 667.6 900.5 C664.0 904.0 658.9 906.5 654.5 908.2 C650.1 909.8 645.7 911.1 641.3 910.4 C637.0 909.6 632.0 906.1 628.2 903.8 C624.4 901.5 620.0 898.0 618.3 896.8Z" fill="#f8d9d9" stroke="#000" stroke-width="1.9" stroke-linejoin="round"/>
<path d="M726.9 857.5 L854.9 857.5 L854.9 887.6 C854.0 887.6 851.9 886.3 849.4 887.6 C846.8 888.9 842.7 893.8 839.4 895.6 C836.1 897.4 832.8 898.9 829.4 898.6 C826.1 898.2 822.1 895.2 819.5 893.6 C816.8 891.9 815.2 887.9 813.5 888.6 C811.8 889.3 811.0 894.1 809.5 897.6 C808.0 901.1 806.5 907.0 804.5 909.5 C802.5 912.0 800.1 912.5 797.6 912.5 C795.1 912.5 791.9 911.7 789.6 909.5 C787.3 907.4 785.6 903.5 783.6 899.6 C781.6 895.6 780.0 889.9 777.6 885.6 C775.3 881.3 772.3 876.5 769.7 873.7 C767.0 870.8 764.7 868.4 761.7 868.7 C758.7 869.0 754.7 872.2 751.8 875.7 C748.8 879.1 746.4 885.6 743.8 889.6 C741.1 893.6 738.6 897.6 735.8 899.6 C733.0 901.6 728.4 901.3 726.9 901.6Z" fill="#f9a9a9"/>
<path d="M618.3 896.8 C620.0 898.0 624.4 901.5 628.2 903.8 C632.0 906.1 637.0 909.6 641.3 910.4 C645.7 911.1 650.1 909.8 654.5 908.2 C658.9 906.5 664.0 904.0 667.6 900.5 C671.3 897.0 673.5 891.0 676.4 887.4 C679.3 883.7 682.4 880.7 685.2 878.6 C687.9 876.5 690.5 874.7 692.8 874.7 C695.2 874.6 697.8 876.8 699.4 878.2 C701.1 879.5 701.3 880.7 702.7 883.0 C704.1 885.2 705.7 888.8 707.9 891.6 C710.1 894.4 712.9 897.7 715.9 899.6 C718.9 901.4 722.5 902.5 725.9 902.5 C729.2 902.5 732.8 901.7 735.8 899.6 C738.8 897.4 741.1 893.6 743.8 889.6 C746.4 885.6 748.8 879.1 751.8 875.7 C754.7 872.2 758.7 869.0 761.7 868.7 C764.7 868.4 767.0 870.8 769.7 873.7 C772.3 876.5 775.3 881.3 777.6 885.6 C780.0 889.9 781.6 895.6 783.6 899.6 C785.6 903.5 787.3 907.4 789.6 909.5 C791.9 911.7 795.1 912.5 797.6 912.5 C800.1 912.5 802.5 912.0 804.5 909.5 C806.5 907.0 808.0 901.1 809.5 897.6 C811.0 894.1 811.8 889.3 813.5 888.6 C815.2 887.9 816.8 891.9 819.5 893.6 C822.1 895.2 826.1 898.2 829.4 898.6 C832.8 898.9 836.1 897.4 839.4 895.6 C842.7 893.8 846.0 890.4 849.4 887.6 C852.7 884.8 856.0 881.0 859.3 878.6 C862.6 876.3 865.8 873.5 869.3 873.7 C872.8 873.8 876.7 876.7 880.4 879.7 C884.1 882.7 887.3 888.5 891.4 891.7 C895.4 895.0 900.5 898.0 904.5 899.4 C908.5 900.9 911.4 901.4 915.5 900.5 C919.5 899.6 924.2 896.9 928.6 893.9 C933.0 891.0 937.7 885.5 941.8 883.0 C945.8 880.4 949.1 878.8 952.7 878.6 C956.4 878.4 960.6 880.4 963.7 881.9 C966.8 883.3 970.1 886.4 971.3 887.4" fill="none" stroke="#000" stroke-width="2"/>
<path d="M643.5 856.7 C646.1 854.9 653.0 849.2 658.9 845.7 C664.7 842.3 672.8 838.2 678.6 835.9 C684.4 833.5 688.5 833.0 693.9 831.5 C699.4 830.0 706.4 828.3 711.5 827.1 C716.6 825.9 721.5 825.2 724.6 824.5 C727.7 823.8 726.6 823.8 729.8 822.9 C733.0 821.9 740.5 820.7 743.8 818.9 C747.1 817.1 747.8 814.6 749.8 811.9 C751.8 809.3 753.1 805.3 755.7 802.9 C758.4 800.6 761.7 799.1 765.7 798.0 C769.7 796.9 773.7 796.6 779.6 796.4 C785.6 796.1 795.9 796.0 801.6 796.4 C807.2 796.7 810.2 797.1 813.5 798.4 C816.8 799.6 819.2 801.5 821.5 803.9 C823.8 806.4 825.5 810.4 827.5 812.9 C829.4 815.4 829.8 817.1 833.4 818.9 C837.1 820.7 845.9 822.9 849.4 823.9 C852.8 824.9 849.3 823.8 854.1 824.9 C858.9 826.0 870.5 828.2 878.2 830.4 C885.9 832.6 893.2 835.1 900.1 838.1 C907.1 841.0 914.0 844.7 919.8 847.9 C925.7 851.1 932.6 855.6 935.2 857.1 L935.2 858 L643.5 858Z" fill="#ff0000"/>
<path d="M643.5 856.7 C646.1 854.9 653.0 849.2 658.9 845.7 C664.7 842.3 672.8 838.2 678.6 835.9 C684.4 833.5 688.5 833.0 693.9 831.5 C699.4 830.0 706.4 828.3 711.5 827.1 C716.6 825.9 721.5 825.2 724.6 824.5 C727.7 823.8 726.6 823.8 729.8 822.9 C733.0 821.9 740.5 820.7 743.8 818.9 C747.1 817.1 747.8 814.6 749.8 811.9 C751.8 809.3 753.1 805.3 755.7 802.9 C758.4 800.6 761.7 799.1 765.7 798.0 C769.7 796.9 773.7 796.6 779.6 796.4 C785.6 796.1 795.9 796.0 801.6 796.4 C807.2 796.7 810.2 797.1 813.5 798.4 C816.8 799.6 819.2 801.5 821.5 803.9 C823.8 806.4 825.5 810.4 827.5 812.9 C829.4 815.4 829.8 817.1 833.4 818.9 C837.1 820.7 845.9 822.9 849.4 823.9 C852.8 824.9 849.3 823.8 854.1 824.9 C858.9 826.0 870.5 828.2 878.2 830.4 C885.9 832.6 893.2 835.1 900.1 838.1 C907.1 841.0 914.0 844.7 919.8 847.9 C925.7 851.1 932.6 855.6 935.2 857.1" fill="none" stroke="#000" stroke-width="1.9" stroke-linejoin="round"/>
<path d="M643.5 857.3 H935.2" stroke="#100" stroke-width="1.2"/>
<path d="M728.2 857.7 C728.4 856.1 727.8 851.2 729.4 848.2 C731.0 845.2 733.4 842.5 737.8 839.8 C742.2 837.1 749.8 834.2 755.7 831.8 C761.7 829.5 768.0 827.1 773.7 825.9 C779.3 824.6 784.3 824.1 789.6 824.3 C794.9 824.4 799.6 825.3 805.5 826.9 C811.5 828.4 818.8 831.2 825.5 833.8 C832.1 836.5 840.7 840.1 845.4 842.8 C850.0 845.4 851.8 847.3 853.3 849.8 C854.9 852.3 854.7 856.4 854.9 857.7 Z" fill="#ff8080"/>
<path d="M728.2 857.7 C728.4 856.1 727.8 851.2 729.4 848.2 C731.0 845.2 733.4 842.5 737.8 839.8 C742.2 837.1 749.8 834.2 755.7 831.8 C761.7 829.5 768.0 827.1 773.7 825.9 C779.3 824.6 784.3 824.1 789.6 824.3 C794.9 824.4 799.6 825.3 805.5 826.9 C811.5 828.4 818.8 831.2 825.5 833.8 C832.1 836.5 840.7 840.1 845.4 842.8 C850.0 845.4 851.8 847.3 853.3 849.8 C854.9 852.3 854.7 856.4 854.9 857.7" fill="none" stroke="#1a1a1a" stroke-width="1.9" stroke-dasharray="7.5 3.5"/>
<path d="M728.9 857.7 H854.9" stroke="#1a1a1a" stroke-width="1.9" stroke-dasharray="7.5 3.5"/>
<path d="M726.9 859 V901.6" stroke="#111" stroke-width="2.4" stroke-dasharray="3 2.8"/>
<path d="M854.9 859 V881.6" stroke="#111" stroke-width="2.4" stroke-dasharray="3 2.8"/>
<rect x="3.6" y="3.5" width="996.9" height="3.0" fill="#000"/>
<rect x="3.7" y="3.5" width="3.0" height="932.5" fill="#000"/>
<rect x="498.6" y="3.5" width="3.7" height="643.8" fill="#000"/>
<rect x="997.0" y="3.5" width="3.5" height="642.5" fill="#000"/>
<rect x="3.7" y="643.2" width="498.6" height="4.1" fill="#000"/>
<rect x="502.0" y="643.0" width="498.5" height="3.0" fill="#000"/>
<rect x="3.7" y="933.3" width="995.3" height="2.7" fill="#000"/>
<rect x="582.2" y="645.0" width="3.0" height="291.0" fill="#000"/>
<rect x="995.6" y="645.0" width="3.4" height="291.0" fill="#000"/>
<rect x="582.2" y="784.0" width="416.8" height="4.2" fill="#000"/>
<circle cx="418.0" cy="86.2" r="81.8" fill="#fff" clip-path="url(#haloclip)"/>
<circle cx="418.0" cy="86.2" r="77.5" fill="#5c5cff" stroke="#1010ff" stroke-width="2.8"/>
<path d="M405.6 63.2 C391.6 76.2 383.5 83.7 375.5 105.7 L461.4 105.7 C453.4 83.7 444.7 76.2 430.7 63.2Z" fill="url(#bellg1)" stroke="#000" stroke-width="1.5" stroke-linejoin="round"/>
<rect x="405.6" y="19.2" width="25.1" height="45.0" fill="#ff8080"/>
<path d="M405.6 63.2 V19.2 H430.7 V63.2" fill="none" stroke="#000" stroke-width="1.5"/>
<rect x="357.3" y="106.9" width="122.7" height="10.5" fill="#e2a884" filter="url(#sandf)"/>
<rect x="357.3" y="117.2" width="122.7" height="12.1" fill="#4d4d4d"/>
</svg>
</body></html>
